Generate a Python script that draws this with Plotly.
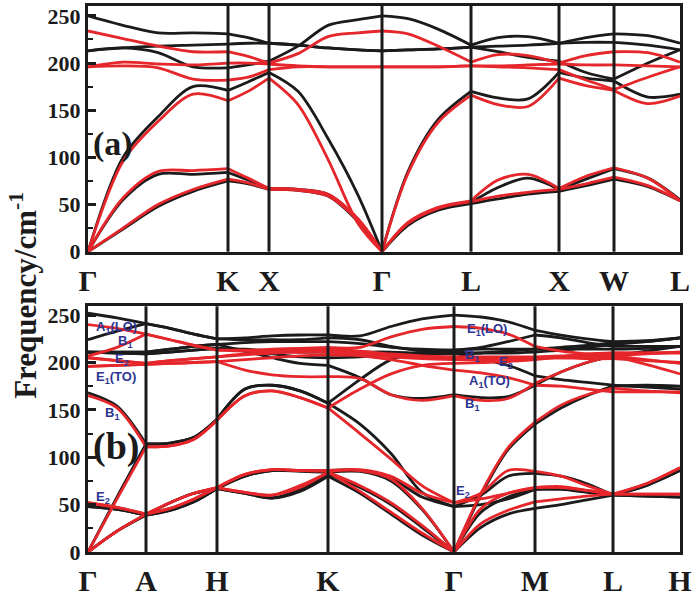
import plotly.graph_objects as go

# ---------------- top panel (a): path G-K-X-G-L-X-W-L ----------------
top_k = [0, 35, 70, 105, 140, 160, 181, 210, 240, 270, 294, 320, 350, 383, 410, 440, 471, 498, 526, 560, 592]
top_sym_idx = [0, 4, 6, 10, 13, 16, 18, 20]
top_sym_lbl = ["Γ", "K", "X", "Γ", "L", "X", "W", "L"]

top_black = [
    [0, 24, 48, 64, 75, 72, 66, 65, 59, 32, 0, 28, 44, 51, 56, 61, 64, 70, 77, 69, 54],
    [0, 55, 82, 82, 84, 76, 67, 66, 61, 34, 0, 30, 46, 52, 68, 78, 66, 77, 88, 78, 55],
    [0, 100, 143, 175, 171, 180, 190, 170, 120, 60, 0, 85, 140, 170, 163, 162, 190, 184, 181, 164, 167],
    [213, 216, 211, 196, 195, 198, 202, 218, 240, 246, 250, 247, 236, 219, 227, 228, 221, 227, 231, 229, 221],
    [213, 216, 218, 219, 220, 221, 221, 219, 216, 214, 213, 214, 215, 217, 218, 219, 221, 222, 222, 219, 214],
    [250, 240, 232, 232, 231, 227, 221, 219, 216, 214, 213, 214, 215, 217, 212, 206, 202, 190, 183, 200, 214],
]
top_red = [
    [0, 25, 50, 66, 77, 73, 66, 65, 59, 33, 0, 30, 46, 53, 59, 63, 66, 72, 79, 70, 54],
    [0, 57, 85, 86, 88, 78, 67, 66, 61, 35, 0, 31, 47, 54, 76, 82, 67, 80, 89, 78, 54],
    [0, 96, 138, 167, 160, 170, 184, 156, 98, 30, 0, 83, 137, 166, 156, 154, 184, 176, 171, 157, 165],
    [196, 197, 195, 183, 182, 185, 193, 196, 196, 196, 196, 196, 196, 197, 196, 195, 193, 182, 172, 185, 196],
    [196, 201, 199, 198, 200, 200, 199, 197, 196, 196, 196, 196, 196, 197, 197, 198, 199, 198, 198, 197, 196],
    [234, 226, 218, 212, 212, 207, 200, 210, 228, 232, 234, 231, 218, 201, 209, 208, 200, 208, 212, 211, 201],
]

# ---------------- bottom panel (b): path G-A-H-K-G-M-L-H ----------------
bot_k = [0, 29, 58, 82, 106, 129, 157, 184, 212, 240, 272, 303, 334, 366, 393, 420, 447, 473, 499, 525, 558, 592]
bot_sym_idx = [0, 2, 5, 9, 13, 16, 19, 21]
bot_sym_lbl = ["Γ", "A", "H", "K", "Γ", "M", "L", "H"]

bot_black = [
    [0, 22, 39, 44, 53, 67, 62, 57, 64, 80, 62, 40, 18, 0, 26, 40, 46, 50, 55, 60, 59, 58],
    [0, 22, 39, 44, 53, 67, 62, 57, 66, 82, 68, 50, 26, 0, 42, 58, 66, 68, 64, 60, 70, 86],
    [48, 45, 39, 52, 62, 67, 80, 86, 85, 84, 85, 75, 45, 0, 60, 108, 135, 152, 165, 175, 176, 175],
    [48, 45, 39, 52, 62, 67, 80, 86, 86, 86, 86, 78, 58, 48, 50, 56, 66, 66, 63, 60, 70, 86],
    [0, 58, 114, 115, 121, 140, 172, 176, 170, 157, 135, 104, 63, 48, 60, 80, 83, 80, 72, 60, 59, 58],
    [168, 154, 114, 115, 121, 140, 172, 176, 170, 157, 182, 203, 211, 213, 214, 214, 214, 216, 218, 221, 222, 226],
    [211, 210, 209, 211, 213, 215, 214, 212, 211, 211, 211, 211, 210, 210, 204, 197, 186, 182, 179, 176, 174, 172],
    [211, 210, 209, 211, 213, 215, 212, 209, 206, 205, 206, 208, 209, 209, 210, 212, 214, 214, 214, 214, 215, 217],
    [211, 211, 211, 214, 217, 219, 212, 205, 199, 197, 184, 166, 162, 166, 163, 164, 176, 190, 200, 207, 212, 217],
    [211, 211, 211, 214, 217, 219, 221, 222, 222, 222, 220, 216, 214, 213, 216, 222, 229, 226, 221, 217, 217, 217],
    [224, 233, 241, 236, 230, 225, 224, 224, 224, 226, 224, 217, 212, 211, 210, 210, 211, 213, 216, 219, 222, 226],
    [252, 247, 241, 236, 230, 225, 226, 228, 229, 229, 228, 238, 246, 250, 248, 243, 234, 229, 225, 222, 223, 226],
]
bot_red = [
    [0, 22, 40, 46, 56, 68, 63, 60, 68, 84, 64, 42, 20, 0, 30, 44, 53, 56, 59, 61, 61, 61],
    [0, 22, 40, 52, 62, 68, 63, 60, 70, 84, 70, 52, 28, 0, 46, 62, 68, 69, 65, 61, 72, 89],
    [52, 47, 40, 52, 62, 68, 82, 87, 86, 85, 86, 77, 46, 0, 62, 110, 137, 155, 166, 173, 170, 168],
    [52, 47, 40, 46, 56, 68, 82, 87, 86, 86, 87, 80, 62, 52, 56, 62, 68, 68, 65, 61, 72, 89],
    [0, 56, 111, 112, 119, 139, 165, 170, 163, 152, 125, 98, 70, 52, 62, 86, 85, 80, 70, 61, 61, 61],
    [165, 152, 111, 112, 119, 139, 165, 170, 163, 152, 172, 188, 197, 199, 200, 201, 203, 206, 209, 210, 210, 210],
    [196, 197, 198, 199, 200, 201, 192, 187, 185, 185, 183, 166, 160, 165, 160, 162, 178, 190, 200, 207, 203, 199],
    [196, 197, 198, 199, 200, 201, 203, 205, 207, 208, 207, 203, 197, 192, 189, 184, 176, 175, 172, 169, 169, 169],
    [205, 202, 199, 202, 204, 206, 209, 211, 211, 212, 210, 208, 206, 205, 205, 205, 205, 205, 204, 204, 202, 200],
    [205, 202, 199, 202, 204, 206, 208, 210, 211, 211, 209, 206, 204, 203, 203, 203, 204, 205, 206, 207, 198, 188],
    [207, 216, 230, 224, 218, 213, 212, 212, 213, 214, 212, 209, 207, 206, 206, 206, 206, 207, 208, 210, 210, 211],
    [240, 236, 230, 224, 218, 213, 213, 214, 215, 216, 216, 227, 235, 238, 236, 230, 217, 212, 209, 207, 209, 211],
]

# mode labels in panel (b): (text, k, frequency)
mode_labels = [
    ("A<sub>1</sub>(LO)", 28, 237),
    ("B<sub>1</sub>", 37, 222),
    ("E<sub>2</sub>", 34, 203),
    ("E<sub>1</sub>(TO)", 28, 184),
    ("B<sub>1</sub>", 24, 146),
    ("E<sub>2</sub>", 15, 57),
    ("E<sub>1</sub>(LO)", 399, 235),
    ("B<sub>1</sub>", 384, 207),
    ("E<sub>2</sub>", 418, 200),
    ("A<sub>1</sub>(TO)", 401, 180),
    ("B<sub>1</sub>", 384, 156),
    ("E<sub>2</sub>", 375, 64),
]

BLACK = "#1b1b1b"
RED = "#e5262b"
BLUE = "#2d3592"
SERIF = "Liberation Serif"


def split_segments(ks, vals, sym_idx):
    xs, ys = [], []
    for a, b in zip(sym_idx[:-1], sym_idx[1:]):
        xs += ks[a:b + 1] + [None]
        ys += vals[a:b + 1] + [None]
    return xs, ys


fig = go.Figure()
for bands, color in ((top_black, BLACK), (top_red, RED)):
    for band in bands:
        xs, ys = split_segments(top_k, band, top_sym_idx)
        fig.add_trace(go.Scatter(x=xs, y=ys, mode="lines", xaxis="x", yaxis="y",
                                 line=dict(color=color, width=2.8, shape="spline", smoothing=0.9),
                                 hoverinfo="skip"))
for bands, color in ((bot_black, BLACK), (bot_red, RED)):
    for band in bands:
        xs, ys = split_segments(bot_k, band, bot_sym_idx)
        fig.add_trace(go.Scatter(x=xs, y=ys, mode="lines", xaxis="x2", yaxis="y2",
                                 line=dict(color=color, width=2.8, shape="spline", smoothing=0.9),
                                 hoverinfo="skip"))

shapes = []
for i in top_sym_idx[1:-1]:
    shapes.append(dict(type="line", xref="x", yref="y domain", x0=top_k[i], x1=top_k[i], y0=0, y1=1,
                       line=dict(color=BLACK, width=3), layer="above"))
for i in bot_sym_idx[1:-1]:
    shapes.append(dict(type="line", xref="x2", yref="y2 domain", x0=bot_k[i], x1=bot_k[i], y0=0, y1=1,
                       line=dict(color=BLACK, width=3), layer="above"))

common_x = dict(showgrid=False, zeroline=False, showline=True, mirror=True, linewidth=3, linecolor=BLACK,
                ticks="", tickfont=dict(family=SERIF, size=30, color=BLACK, weight="bold"), range=[0, 592])
common_y = dict(showgrid=False, zeroline=False, showline=True, mirror=True, linewidth=3, linecolor=BLACK,
                ticks="inside", ticklen=8, tickwidth=2.5, tickcolor=BLACK, dtick=50, tick0=0,
                minor=dict(ticks="inside", ticklen=5, tickwidth=2, dtick=25, tickcolor=BLACK),
                tickfont=dict(family=SERIF, size=22, color=BLACK, weight="bold"))

annotations = [
    dict(text="Frequency/cm<sup>-1</sup>", xref="paper", yref="paper", x=-0.109, y=0.47, textangle=-90,
         xanchor="center", yanchor="middle",
         showarrow=False, font=dict(family=SERIF, size=31, color=BLACK, weight="bold")),
    dict(text="(a)", xref="x", yref="y", x=25, y=114, showarrow=False,
         font=dict(family=SERIF, size=34, color=BLACK, weight="bold")),
    dict(text="(b)", xref="x2", yref="y2", x=28, y=111, showarrow=False,
         font=dict(family=SERIF, size=38, color=BLACK, weight="bold")),
]
for txt, k, f in mode_labels:
    annotations.append(dict(text=txt, xref="x2", yref="y2", x=k, y=f, showarrow=False,
                            font=dict(family="Liberation Sans", size=13, color=BLUE, weight="bold")))

fig.update_layout(
    width=700, height=600, margin=dict(l=88, r=20, t=3, b=37),
    plot_bgcolor="white", paper_bgcolor="white", showlegend=False,
    xaxis=dict(domain=[0, 1], anchor="y", tickvals=[top_k[i] for i in top_sym_idx], ticktext=top_sym_lbl, **common_x),
    yaxis=dict(domain=[0.55, 1], anchor="x", range=[0, 260.5], **common_y),
    xaxis2=dict(domain=[0, 1], anchor="y2", tickvals=[bot_k[i] for i in bot_sym_idx], ticktext=bot_sym_lbl, **common_x),
    yaxis2=dict(domain=[0, 0.45], anchor="x2", range=[0, 259.3], **common_y),
    shapes=shapes, annotations=annotations,
)

fig.write_html("out.html")
